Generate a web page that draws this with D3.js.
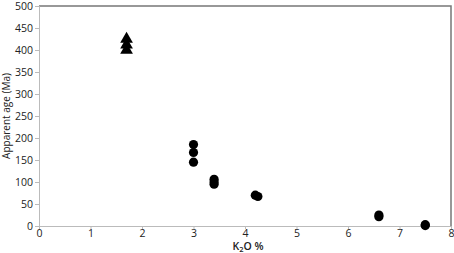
<!DOCTYPE html>
<html>
<head>
<meta charset="utf-8">
<script src="https://cdn.jsdelivr.net/npm/d3@7"></script>
<style>
  body { margin: 0; background: #fff; }
  text { font-family: 'Open Sans', sans-serif; fill: #222; }
</style>
</head>
<body>
<svg width="454" height="253"></svg>
<script>
// triangles and circles
const triK = [1.7, 1.7, 1.7];
const triAge = [425, 412, 400];
const dotK = [3, 3, 3, 3.4, 3.4, 3.4, 4.2, 4.25, 6.6, 6.6, 7.5, 7.5];
const dotAge = [185, 167, 145, 106, 100, 95, 70, 67, 25, 21, 3, 1];
const xTicks = [0, 1, 2, 3, 4, 5, 6, 7, 8];
const yTicks = [0, 50, 100, 150, 200, 250, 300, 350, 400, 450, 500];

const svg = d3.select('svg');
const m = { top: 6, right: 3, bottom: 27, left: 39 };
const width = +svg.attr('width') - m.left - m.right;
const height = +svg.attr('height') - m.top - m.bottom;
const g = svg.append('g').attr('transform', `translate(${m.left}, ${m.top})`);

const x = d3.scaleLinear().domain([0, 8]).range([0, width]);
const y = d3.scaleLinear().domain([0, 500]).range([height, 0]);

// frame top/right
g.append('path')
  .attr('d', `M0,0H${width}V${height}`)
  .attr('fill', 'none')
  .attr('stroke', '#777')
  .attr('stroke-width', 1.5);

const xa = g.append('g')
  .attr('transform', `translate(0, ${height})`)
  .call(d3.axisBottom(x).tickValues(xTicks).tickSize(3).tickPadding(1).tickFormat(d3.format('d')));
const ya = g.append('g')
  .call(d3.axisLeft(y).tickValues(yTicks).tickSize(4).tickPadding(2));
[xa, ya].forEach(a => {
  a.selectAll('.domain, line').attr('stroke', '#bbb');
  a.selectAll('text').style('font-size', '10.5px').attr('fill', '#222');
});

const tri = d3.symbol().type(d3.symbolTriangle).size(70);
g.selectAll('.tri')
  .data(triK.map((k, i) => [k, triAge[i]]))
  .join('path')
  .attr('d', tri)
  .attr('transform', d => `translate(${x(d[0])}, ${y(d[1])})`)
  .attr('fill', '#000');

g.selectAll('.dot')
  .data(dotK.map((k, i) => [k, dotAge[i]]))
  .join('circle')
  .attr('cx', d => x(d[0]))
  .attr('cy', d => y(d[1]))
  .attr('r', 4.6)
  .attr('fill', '#000');

svg.append('text')
  .attr('transform', `translate(10, ${m.top + height / 2}) rotate(-90)`)
  .attr('text-anchor', 'middle')
  .style('font-size', '10px')
  .text('Apparent age (Ma)');

const xl = svg.append('text')
  .attr('x', m.left + width / 2 + 3)
  .attr('y', 250)
  .attr('text-anchor', 'middle')
  .style('font-size', '10.5px')
  .style('font-weight', '600');
xl.append('tspan').text('K');
xl.append('tspan').text('2').attr('dy', 2).style('font-size', '7.5px');
xl.append('tspan').text('O %').attr('dy', -2);
</script>
</body>
</html>
